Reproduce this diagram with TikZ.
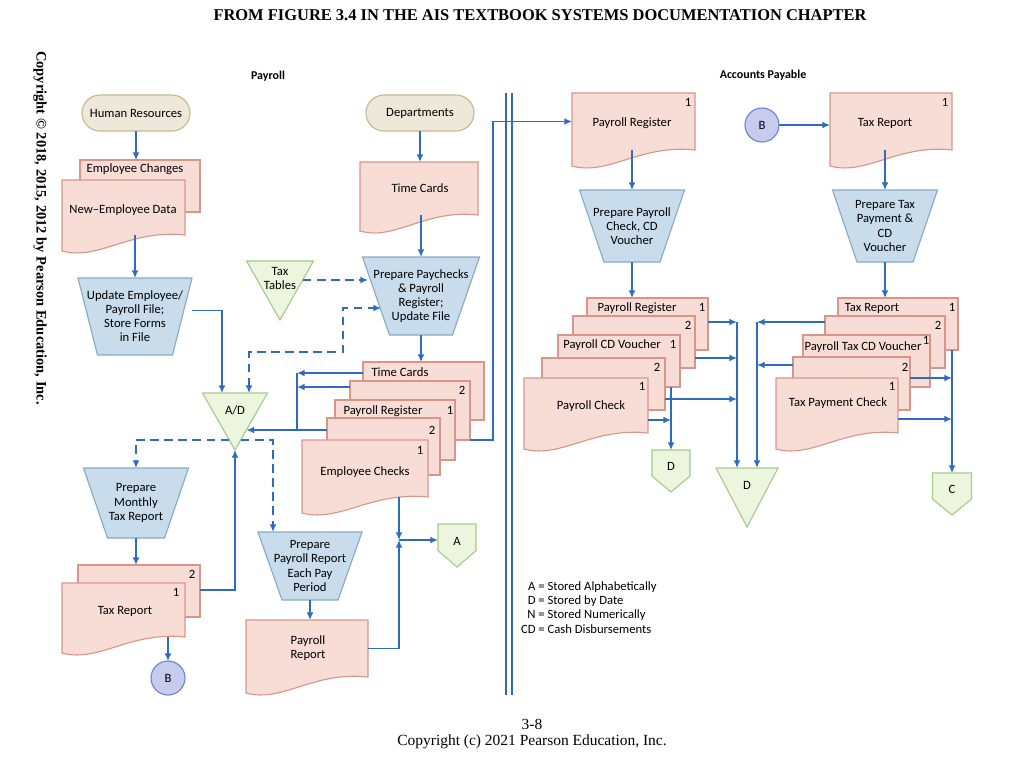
\documentclass[tikz,border=0pt]{standalone}
\usepackage{fontspec}
\setmainfont{Liberation Serif}
\newfontfamily\chartfont{Carlito}
\usetikzlibrary{shapes.misc,calc,arrows.meta}

\definecolor{docfill}{HTML}{F8DDD6}
\definecolor{docline}{HTML}{D9958A}
\definecolor{procfill}{HTML}{C8DCEB}
\definecolor{procline}{HTML}{86ABC4}
\definecolor{storefill}{HTML}{ECF5DE}
\definecolor{storeline}{HTML}{A8C98C}
\definecolor{termfill}{HTML}{EEE8DA}
\definecolor{termline}{HTML}{C8B690}
\definecolor{connfill}{HTML}{C7CBEE}
\definecolor{connline}{HTML}{6C84D4}
\definecolor{flowblue}{HTML}{2F6CC0}

% document with wavy bottom: name, left, top, width, right height
\newcommand\Doc[5]{%
  \node[docbox, minimum width=#4*0.025cm, minimum height=#5*0.025cm, anchor=north west] (#1) at (#2,#3) {};
  \filldraw[doc] (#1.north west) -- (#1.north east) -- (#1.south east)
    .. controls +(-0.45*#4,-6) and +(0.3*#4,10) .. ($(#1.south west)+(0,16)$) -- cycle;}
% sheet partly hidden in a stack
\newcommand\Sheet[5]{%
  \node[sheet, minimum width=#4*0.025cm, minimum height=#5*0.025cm, anchor=north west] (#1) at (#2,#3) {};}
% manual operation: name, centre x, top, top width, bottom width, height, text
\newcommand\Proc[7]{%
  \filldraw[proc] ({#2-#4/2},#3) -- ({#2+#4/2},#3) -- ({#2+#5/2},{#3+#6}) -- ({#2-#5/2},{#3+#6}) -- cycle;
  \node[lbl, minimum width=#5*0.025cm, minimum height=#6*0.025cm, anchor=north] (#1) at (#2,#3) {#7};}
% file: name, centre x, top, width, height, text
\newcommand\Tri[6]{%
  \filldraw[store] ({#2-#4/2},#3) -- ({#2+#4/2},#3) -- (#2,{#3+#5}) -- cycle;
  \node[lbl, minimum width=#4*0.025cm, minimum height=#5*0.025cm, anchor=north] (#1) at (#2,#3) {};
  \node[lbl] (#1-t) at (#2,{#3+#5*0.3}) {#6};}
% off-page connector: name, centre x, top, width, height, text
\newcommand\Page[6]{%
  \filldraw[store] ({#2-#4/2},#3) -- ({#2+#4/2},#3) -- ({#2+#4/2},{#3+0.62*#5}) -- (#2,{#3+#5}) -- ({#2-#4/2},{#3+0.62*#5}) -- cycle;
  \node[lbl, minimum width=#4*0.025cm, minimum height=#5*0.8*0.025cm, anchor=north] (#1) at (#2,#3) {#6};}

\begin{document}
\begin{tikzpicture}[x=0.025cm,y=-0.025cm,>={Latex[length=5.5pt,width=5pt]},
    lbl/.style={font=\chartfont\fontsize{9}{10}\selectfont, align=center, inner sep=0pt, outer sep=0pt},
    num/.style={lbl},
    docbox/.style={rectangle, draw=none, inner sep=0pt, outer sep=0pt},
    doc/.style={fill=docfill, draw=docline, line width=0.8pt},
    sheet/.style={rectangle, fill=docfill, draw=docline, line width=0.8pt, inner sep=0pt, outer sep=0pt},
    proc/.style={fill=procfill, draw=procline, line width=0.8pt},
    store/.style={fill=storefill, draw=storeline, line width=0.8pt},
    term/.style={lbl, rounded rectangle, fill=termfill, draw=termline, line width=0.8pt,
      minimum width=108*0.025cm, minimum height=36*0.025cm},
    conn/.style={lbl, circle, fill=connfill, draw=connline, line width=0.8pt, minimum size=34*0.025cm},
    flow/.style={->, draw=flowblue, line width=1.2pt},
    line/.style={draw=flowblue, line width=1.2pt},
    dflow/.style={draw=flowblue, line width=1.2pt, dash pattern=on 6pt off 4pt}]
  \useasboundingbox (0,0) rectangle (1024,758);

  % page texts
  \node[font=\bfseries\fontsize{11.7}{13}\selectfont] (title) at (540,15)
    {FROM FIGURE 3.4 IN THE AIS TEXTBOOK SYSTEMS DOCUMENTATION CHAPTER};
  \node[rotate=-90, font=\bfseries\fontsize{10.3}{12}\selectfont] (copyv) at (40,228)
    {Copyright © 2018, 2015, 2012 by Pearson Education, Inc.};
  \node[font=\fontsize{11}{13}\selectfont] (page) at (532,724) {3-8};
  \node[font=\fontsize{11}{13}\selectfont] (copyb) at (532,742) {Copyright (c) 2021 Pearson Education, Inc.};
  \node[lbl, font=\chartfont\bfseries\fontsize{8.5}{9}\selectfont] (hpay) at (268,76) {Payroll};
  \node[lbl, font=\chartfont\bfseries\fontsize{8.5}{9}\selectfont] (hap) at (763,75) {Accounts Payable};
  \draw[line, line width=0.8pt] (506,93) -- (506,695) (512,93) -- (512,695);

  % payroll, left
  \node[term] (hr) at (136,113) {Human Resources};
  \Sheet{empchg}{80}{160}{120}{52}
  \node[lbl] (empchg-l) at (135,169) {Employee Changes};
  \Doc{newemp}{62}{180}{123}{55}
  \node[lbl] (newemp-l) at (123,210) {New–Employee Data};
  \Proc{update}{135}{278}{114}{75}{77}{Update Employee/\\Payroll File;\\Store Forms\\in File}
  \Tri{ad}{235}{393}{65}{57}{A/D}
  \Tri{taxtab}{280}{261}{67}{59}{Tax\\Tables}

  \node[term] (dept) at (420,113) {Departments};
  \Doc{tcards}{360}{162}{118}{53}
  \node[lbl] (tcards-l) at (420,188) {Time Cards};
  \Proc{prep}{421}{257}{117}{63}{78}{Prepare Paychecks\\\& Payroll\\Register;\\Update File}
  \Sheet{tcout}{363}{362}{121}{58}
  \node[lbl] (tcout-l) at (400,372) {Time Cards};
  \Sheet{tc2}{350}{381}{120}{59}
  \node[num] (tc2-n) at (462,390) {2};
  \Sheet{preg}{335}{400}{120}{60}
  \node[lbl] (preg-l) at (383,411) {Payroll Register};
  \node[num] (preg-n) at (450,410) {1};
  \Sheet{preg2}{327}{418}{113}{57}
  \node[num] (preg2-n) at (432,430) {2};
  \Doc{echk}{302}{440}{126}{57}
  \node[num] (echk-n) at (420,450) {1};
  \node[lbl] (echk-l) at (365,472) {Employee Checks};

  \Proc{monthly}{136}{468}{105}{57}{70}{Prepare\\Monthly\\Tax Report}
  \Sheet{tr2}{78}{565}{122}{52}
  \node[num] (tr2-n) at (192,574) {2};
  \Doc{tr1}{62}{583}{123}{54}
  \node[num] (tr1-n) at (176,592) {1};
  \node[lbl] (tr1-l) at (125,611) {Tax Report};
  \node[conn] (b1) at (168,678) {B};

  \Proc{payrep}{310}{532}{104}{56}{68}{Prepare\\Payroll Report\\Each Pay\\Period}
  \Doc{prdoc}{246}{620}{122}{57}
  \node[lbl] (prdoc-l) at (308,648) {Payroll\\Report};
  \Page{pa}{457}{524}{38}{43}{A}
  \coordinate (join) at (399,540);

  \node[lbl, anchor=north west, align=left] (legend) at (521,581)
    {\begin{tabular}{@{}r@{ = }l@{}}A & Stored Alphabetically\\D & Stored by Date\\
     N & Stored Numerically\\CD & Cash Disbursements\end{tabular}};

  % accounts payable, right
  \Doc{apreg}{572}{93}{123}{57}
  \node[num] (apreg-n) at (688,102) {1};
  \node[lbl] (apreg-l) at (632,123) {Payroll Register};
  \Proc{apprep}{632}{190}{105}{56}{72}{Prepare Payroll\\Check, CD\\Voucher}
  \Sheet{apr1}{587}{298}{121}{52}
  \node[lbl] (apr1-l) at (637,308) {Payroll Register};
  \node[num] (apr1-n) at (702,307) {1};
  \Sheet{apr2}{573}{316}{122}{52}
  \node[num] (apr2-n) at (688,325) {2};
  \Sheet{cdv1}{558}{335}{122}{52}
  \node[lbl] (cdv1-l) at (612,345) {Payroll CD Voucher};
  \node[num] (cdv1-n) at (673,344) {1};
  \Sheet{cdv2}{542}{358}{123}{52}
  \node[num] (cdv2-n) at (657,367) {2};
  \Doc{pchk}{524}{378}{124}{55}
  \node[num] (pchk-n) at (642,386) {1};
  \node[lbl] (pchk-l) at (591,406) {Payroll Check};
  \Page{pd}{671}{450}{38}{42}{D}
  \Tri{bigd}{747}{468}{62}{59}{D}

  \node[conn] (b2) at (762,125) {B};
  \Doc{taxrep}{830}{93}{122}{57}
  \node[num] (taxrep-n) at (945,102) {1};
  \node[lbl] (taxrep-l) at (885,123) {Tax Report};
  \Proc{taxprep}{885}{190}{105}{56}{72}{Prepare Tax\\Payment \&\\CD\\Voucher}
  \Sheet{trb1}{838}{298}{120}{52}
  \node[lbl] (trb1-l) at (872,308) {Tax Report};
  \node[num] (trb1-n) at (952,307) {1};
  \Sheet{trb2}{825}{316}{120}{52}
  \node[num] (trb2-n) at (938,325) {2};
  \Sheet{tcd1}{803}{335}{127}{52}
  \node[lbl] (tcd1-l) at (863,347) {Payroll Tax CD Voucher};
  \node[num] (tcd1-n) at (926,340) {1};
  \Sheet{tcd2}{793}{357}{117}{53}
  \node[num] (tcd2-n) at (905,367) {2};
  \Doc{tpc}{776}{378}{122}{55}
  \node[num] (tpc-n) at (892,386) {1};
  \node[lbl] (tpc-l) at (838,403) {Tax Payment Check};
  \Page{pc}{952}{473}{39}{42}{C}

  % flows, payroll
  \draw[flow] (hr.south) -- (hr.south |- empchg.north);
  \draw[flow] (update.north |- newemp.south) -- (update.north);
  \draw[flow] ($(update.east)+(9,-6)$) -| ($(ad.north)+(-13,0)$);
  \draw[flow] (dept.south) -- (dept.south |- tcards.north);
  \draw[flow] (prep.north |- tcards.south) -- (prep.north);
  \draw[flow] (prep.south) -- (prep.south |- tcout.north);
  \coordinate (ttout) at (303,280);
  \coordinate (prepin) at (368,280);
  \coordinate (prepin2) at (381,308);
  \draw[dflow, ->] (ttout) -- (prepin);
  \draw[dflow, <->] ($(ad.north)+(14,0)$) |- (343,352) -- (343,308) -- (prepin2);
  \coordinate (col) at (297,373);
  \draw[flow] ($(tcout.north west)+(0,11)$) -- (col);
  \draw[flow] ($(tc2.north west)+(0,6)$) -- (col |- 0,387);
  \draw[line] (col) -- (col |- 0,430);
  \draw[flow] ($(preg2.north west)+(0,12)$) -- ($(ad.north east)+(-21,37)$);
  \draw[flow] (tc2.south east) -| ($(apreg.west)+(-79,0)$) -- (apreg.west);
  \draw[dflow, ->] ($(ad.south)+(-6,-10)$) -| (monthly.north);
  \draw[dflow, ->] ($(ad.south)+(6,-10)$) -| ($(payrep.north)+(-37,0)$);
  \draw[flow] (monthly.south) -- (monthly.south |- tr2.north);
  \draw[flow] (b1.north |- tr1.south) -- (b1.north);
  \draw[flow] ($(tr2.north east)+(0,25)$) -| (ad.south);
  \draw[flow] (payrep.south) -- (payrep.south |- prdoc.north);
  \draw[flow] (prdoc.east) -| (join);
  \draw[flow] (join |- echk.south) -- (join);
  \draw[flow] (join) -- (pa.west |- join);

  % flows, accounts payable
  \draw[flow] (apprep.north |- apreg.south) -- (apprep.north);
  \draw[flow] (apprep.south) -- (apprep.south |- apr1.north);
  \coordinate (dl) at (737,322);
  \draw[flow] ($(apr1.north east)+(0,24)$) -- (dl);
  \draw[flow] ($(apr2.north east)+(0,42)$) -- (dl |- 0,358);
  \draw[flow] ($(cdv2.north east)+(0,41)$) -- (dl |- 0,399);
  \draw[flow] (dl) -- (dl |- bigd.north);
  \draw[flow] (pd.north |- cdv1.south) -- (pd.north);
  \draw[flow] ($(pchk.north east)+(0,42)$) -- (pd.north |- 0,420);

  \draw[flow] (b2) -- (b2 -| taxrep.west);
  \draw[flow] (taxprep.north |- taxrep.south) -- (taxprep.north);
  \draw[flow] (taxprep.south) -- (taxprep.south |- trb1.north);
  \coordinate (dr) at (757,322);
  \draw[flow] ($(trb2.north west)+(0,6)$) -- (dr);
  \draw[flow] ($(tcd2.north west)+(0,8)$) -- (dr |- 0,365);
  \draw[flow] (dr) -- (dr |- bigd.north);
  \draw[flow] (pc.north |- trb1.south) -- (pc.north);
  \draw[flow] ($(tcd2.north east)+(0,21)$) -- (pc.north |- 0,378);
  \draw[flow] ($(tpc.north east)+(0,41)$) -- (pc.north |- 0,419);
\end{tikzpicture}
\end{document}
